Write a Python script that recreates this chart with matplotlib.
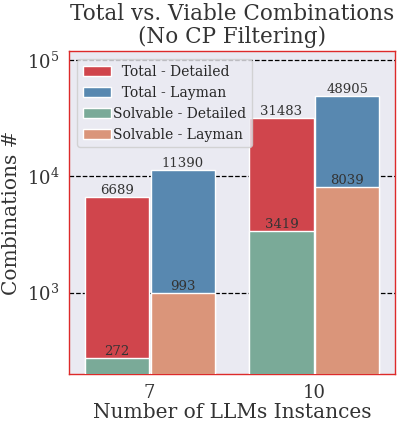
import numpy as np
import matplotlib
matplotlib.use("Agg")
import matplotlib.pyplot as plt
import seaborn as sns

# values
n_llms = ['7', '10']
total_detailed = [6689, 31483]
total_layman = [11390, 48905]
solvable_detailed = [272, 3419]
solvable_layman = [993, 8039]


def add_labels(ax, bars, values):
    for b, v in zip(bars, values):
        ax.text(b.get_x() + b.get_width() / 2, v, str(v), ha='center', va='bottom',
                fontsize=9.5, color='#333333')


def main():
    sns.set_style("darkgrid")
    plt.rcParams['font.family'] = ['DejaVu Serif']
    plt.rcParams['mathtext.fontset'] = 'dejavuserif'

    fig, ax = plt.subplots(figsize=(4.0, 4.24), dpi=100)
    fig.subplots_adjust(left=0.1725, right=0.9875, top=0.88, bottom=0.118)

    x = np.arange(len(n_llms))
    w = 0.39

    b1 = ax.bar(x - 0.2, total_detailed, w, color='#d0454c', edgecolor='white', linewidth=1,
                label='  Total - Detailed', zorder=2)
    b2 = ax.bar(x + 0.2, total_layman, w, color='#5888b0', edgecolor='white', linewidth=1,
                label='  Total - Layman', zorder=2)
    b3 = ax.bar(x - 0.2, solvable_detailed, w, color='#7aaa98', edgecolor='white', linewidth=1,
                label='Solvable - Detailed', zorder=3)
    b4 = ax.bar(x + 0.2, solvable_layman, w, color='#da957a', edgecolor='white', linewidth=1,
                label='Solvable - Layman', zorder=3)

    add_labels(ax, b1, total_detailed)
    add_labels(ax, b2, total_layman)
    add_labels(ax, b3, solvable_detailed)
    add_labels(ax, b4, solvable_layman)

    ax.set_yscale('log')
    ax.set_ylim(200, 1.2e5)
    ax.set_xlim(-0.49, 1.49)
    ax.set_xticks(x)
    ax.set_xticklabels(n_llms)
    ax.tick_params(labelsize=13, colors='#333333')
    ax.minorticks_off()

    ax.grid(False)
    ax.yaxis.grid(True, which='major', linestyle='--', color='black', linewidth=0.9)
    ax.set_axisbelow(True)

    for s in ax.spines.values():
        s.set_visible(True)
        s.set_color('#dd2a2a')
        s.set_linewidth(1)

    ax.set_title('Total vs. Viable Combinations\n(No CP Filtering)', fontsize=15.5,
                 linespacing=1.0, color='#333333')
    ax.set_xlabel('Number of LLMs Instances', fontsize=14.5, color='#333333', labelpad=1)
    ax.set_ylabel('Combinations #', fontsize=14.5, color='#333333')

    ax.legend(loc='upper left', fontsize=10, handlelength=2.0, labelspacing=0.5,
              handletextpad=0.2, borderaxespad=0.6)

    fig.savefig('out.png', dpi=100)


if __name__ == "__main__":
    main()
